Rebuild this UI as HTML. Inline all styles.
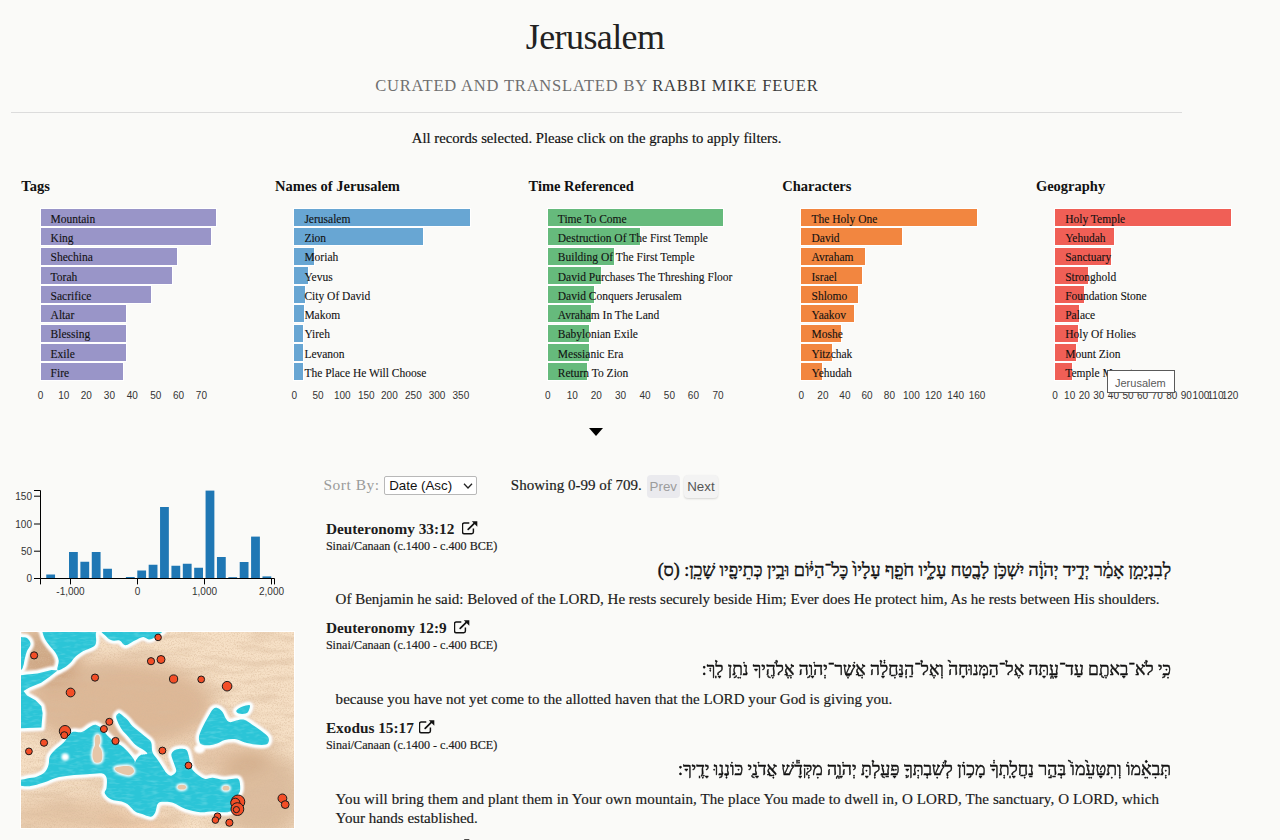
<!DOCTYPE html>
<html><head><meta charset="utf-8"><title>Jerusalem</title>
<style>
html,body{margin:0;padding:0;}
body{width:1280px;height:840px;overflow:hidden;position:relative;background:#fafaf8;font-family:'Liberation Serif', serif;}
.t{position:absolute;white-space:nowrap;-webkit-text-stroke:0.18px currentColor;}
.s1{-webkit-text-stroke:0.1px currentColor;}
.ns{-webkit-text-stroke:0 !important;}
.bar{position:absolute;height:17px;box-shadow:0 0 0 1px #fff;}
.tk{position:absolute;width:60px;text-align:center;font-family:'Liberation Sans', sans-serif;font-size:10px;line-height:12px;color:#333;}
</style></head><body>
<div class="t ns" style="left:95.10px;width:1000px;text-align:center;top:16.25px;font-size:36px;line-height:43.2px;font-family:'Liberation Serif', serif;color:#222;font-weight:normal;letter-spacing:-0.6px;">Jerusalem</div>
<div class="t ns" style="left:375.20px;top:75.53px;font-size:16.5px;line-height:19.8px;font-family:'Liberation Serif', serif;color:#222;font-weight:normal;letter-spacing:0.82px;"><span style="color:#707070">CURATED AND TRANSLATED BY </span><span style="color:#3c3c3c">RABBI MIKE FEUER</span></div>
<div style="position:absolute;left:11px;top:112px;width:1171px;height:1px;background:#dcdcdc"></div>
<div class="t" style="left:411.80px;top:129.82px;font-size:14.7px;line-height:17.64px;font-family:'Liberation Serif', serif;color:#111;font-weight:normal;">All records selected. Please click on the graphs to apply filters.</div>
<div class="t ns" style="left:21.30px;top:178.31px;font-size:14.5px;line-height:17.4px;font-family:'Liberation Serif', serif;color:#111;font-weight:bold;">Tags</div>
<div class="bar" style="left:40.50px;top:208.90px;width:175.50px;background:#9995c8"></div>
<div class="t s1" style="left:50.60px;top:212.62px;font-size:11.5px;line-height:13.8px;font-family:'Liberation Serif', serif;color:#111;font-weight:normal;z-index:2;">Mountain</div>
<div class="bar" style="left:40.50px;top:228.21px;width:170.90px;background:#9995c8"></div>
<div class="t s1" style="left:50.60px;top:231.93px;font-size:11.5px;line-height:13.8px;font-family:'Liberation Serif', serif;color:#111;font-weight:normal;z-index:2;">King</div>
<div class="bar" style="left:40.50px;top:247.52px;width:136.10px;background:#9995c8"></div>
<div class="t s1" style="left:50.60px;top:251.24px;font-size:11.5px;line-height:13.8px;font-family:'Liberation Serif', serif;color:#111;font-weight:normal;z-index:2;">Shechina</div>
<div class="bar" style="left:40.50px;top:266.83px;width:131.50px;background:#9995c8"></div>
<div class="t s1" style="left:50.60px;top:270.55px;font-size:11.5px;line-height:13.8px;font-family:'Liberation Serif', serif;color:#111;font-weight:normal;z-index:2;">Torah</div>
<div class="bar" style="left:40.50px;top:286.14px;width:110.50px;background:#9995c8"></div>
<div class="t s1" style="left:50.60px;top:289.86px;font-size:11.5px;line-height:13.8px;font-family:'Liberation Serif', serif;color:#111;font-weight:normal;z-index:2;">Sacrifice</div>
<div class="bar" style="left:40.50px;top:305.45px;width:85.20px;background:#9995c8"></div>
<div class="t s1" style="left:50.60px;top:309.17px;font-size:11.5px;line-height:13.8px;font-family:'Liberation Serif', serif;color:#111;font-weight:normal;z-index:2;">Altar</div>
<div class="bar" style="left:40.50px;top:324.76px;width:85.20px;background:#9995c8"></div>
<div class="t s1" style="left:50.60px;top:328.48px;font-size:11.5px;line-height:13.8px;font-family:'Liberation Serif', serif;color:#111;font-weight:normal;z-index:2;">Blessing</div>
<div class="bar" style="left:40.50px;top:344.07px;width:85.20px;background:#9995c8"></div>
<div class="t s1" style="left:50.60px;top:347.79px;font-size:11.5px;line-height:13.8px;font-family:'Liberation Serif', serif;color:#111;font-weight:normal;z-index:2;">Exile</div>
<div class="bar" style="left:40.50px;top:363.38px;width:82.90px;background:#9995c8"></div>
<div class="t s1" style="left:50.60px;top:367.10px;font-size:11.5px;line-height:13.8px;font-family:'Liberation Serif', serif;color:#111;font-weight:normal;z-index:2;">Fire</div>
<div class="tk" style="left:10.60px;top:389.60px">0</div>
<div class="tk" style="left:33.70px;top:389.60px">10</div>
<div class="tk" style="left:56.30px;top:389.60px">20</div>
<div class="tk" style="left:79.40px;top:389.60px">30</div>
<div class="tk" style="left:102.30px;top:389.60px">40</div>
<div class="tk" style="left:125.70px;top:389.60px">50</div>
<div class="tk" style="left:148.60px;top:389.60px">60</div>
<div class="tk" style="left:171.40px;top:389.60px">70</div>
<div class="t ns" style="left:275.10px;top:178.31px;font-size:14.5px;line-height:17.4px;font-family:'Liberation Serif', serif;color:#111;font-weight:bold;">Names of Jerusalem</div>
<div class="bar" style="left:294.30px;top:208.90px;width:175.70px;background:#68a6d3"></div>
<div class="t s1" style="left:304.40px;top:212.62px;font-size:11.5px;line-height:13.8px;font-family:'Liberation Serif', serif;color:#111;font-weight:normal;z-index:2;">Jerusalem</div>
<div class="bar" style="left:294.30px;top:228.21px;width:129.10px;background:#68a6d3"></div>
<div class="t s1" style="left:304.40px;top:231.93px;font-size:11.5px;line-height:13.8px;font-family:'Liberation Serif', serif;color:#111;font-weight:normal;z-index:2;">Zion</div>
<div class="bar" style="left:294.30px;top:247.52px;width:19.70px;background:#68a6d3"></div>
<div class="t s1" style="left:304.40px;top:251.24px;font-size:11.5px;line-height:13.8px;font-family:'Liberation Serif', serif;color:#111;font-weight:normal;z-index:2;">Moriah</div>
<div class="bar" style="left:294.30px;top:266.83px;width:14.00px;background:#68a6d3"></div>
<div class="t s1" style="left:304.40px;top:270.55px;font-size:11.5px;line-height:13.8px;font-family:'Liberation Serif', serif;color:#111;font-weight:normal;z-index:2;">Yevus</div>
<div class="bar" style="left:294.30px;top:286.14px;width:10.60px;background:#68a6d3"></div>
<div class="t s1" style="left:304.40px;top:289.86px;font-size:11.5px;line-height:13.8px;font-family:'Liberation Serif', serif;color:#111;font-weight:normal;z-index:2;">City Of David</div>
<div class="bar" style="left:294.30px;top:305.45px;width:10.00px;background:#68a6d3"></div>
<div class="t s1" style="left:304.40px;top:309.17px;font-size:11.5px;line-height:13.8px;font-family:'Liberation Serif', serif;color:#111;font-weight:normal;z-index:2;">Makom</div>
<div class="bar" style="left:294.30px;top:324.76px;width:9.10px;background:#68a6d3"></div>
<div class="t s1" style="left:304.40px;top:328.48px;font-size:11.5px;line-height:13.8px;font-family:'Liberation Serif', serif;color:#111;font-weight:normal;z-index:2;">Yireh</div>
<div class="bar" style="left:294.30px;top:344.07px;width:9.10px;background:#68a6d3"></div>
<div class="t s1" style="left:304.40px;top:347.79px;font-size:11.5px;line-height:13.8px;font-family:'Liberation Serif', serif;color:#111;font-weight:normal;z-index:2;">Levanon</div>
<div class="bar" style="left:294.30px;top:363.38px;width:8.30px;background:#68a6d3"></div>
<div class="t s1" style="left:304.40px;top:367.10px;font-size:11.5px;line-height:13.8px;font-family:'Liberation Serif', serif;color:#111;font-weight:normal;z-index:2;">The Place He Will Choose</div>
<div class="tk" style="left:264.30px;top:389.60px">0</div>
<div class="tk" style="left:288.00px;top:389.60px">50</div>
<div class="tk" style="left:312.30px;top:389.60px">100</div>
<div class="tk" style="left:336.30px;top:389.60px">150</div>
<div class="tk" style="left:359.40px;top:389.60px">200</div>
<div class="tk" style="left:383.40px;top:389.60px">250</div>
<div class="tk" style="left:407.10px;top:389.60px">300</div>
<div class="tk" style="left:430.90px;top:389.60px">350</div>
<div class="t ns" style="left:528.50px;top:178.31px;font-size:14.5px;line-height:17.4px;font-family:'Liberation Serif', serif;color:#111;font-weight:bold;">Time Referenced</div>
<div class="bar" style="left:547.70px;top:208.90px;width:175.30px;background:#66ba7c"></div>
<div class="t s1" style="left:557.80px;top:212.62px;font-size:11.5px;line-height:13.8px;font-family:'Liberation Serif', serif;color:#111;font-weight:normal;z-index:2;">Time To Come</div>
<div class="bar" style="left:547.70px;top:228.21px;width:92.60px;background:#66ba7c"></div>
<div class="t s1" style="left:557.80px;top:231.93px;font-size:11.5px;line-height:13.8px;font-family:'Liberation Serif', serif;color:#111;font-weight:normal;z-index:2;">Destruction Of The First Temple</div>
<div class="bar" style="left:547.70px;top:247.52px;width:66.00px;background:#66ba7c"></div>
<div class="t s1" style="left:557.80px;top:251.24px;font-size:11.5px;line-height:13.8px;font-family:'Liberation Serif', serif;color:#111;font-weight:normal;z-index:2;">Building Of The First Temple</div>
<div class="bar" style="left:547.70px;top:266.83px;width:53.30px;background:#66ba7c"></div>
<div class="t s1" style="left:557.80px;top:270.55px;font-size:11.5px;line-height:13.8px;font-family:'Liberation Serif', serif;color:#111;font-weight:normal;z-index:2;">David Purchases The Threshing Floor</div>
<div class="bar" style="left:547.70px;top:286.14px;width:46.30px;background:#66ba7c"></div>
<div class="t s1" style="left:557.80px;top:289.86px;font-size:11.5px;line-height:13.8px;font-family:'Liberation Serif', serif;color:#111;font-weight:normal;z-index:2;">David Conquers Jerusalem</div>
<div class="bar" style="left:547.70px;top:305.45px;width:43.70px;background:#66ba7c"></div>
<div class="t s1" style="left:557.80px;top:309.17px;font-size:11.5px;line-height:13.8px;font-family:'Liberation Serif', serif;color:#111;font-weight:normal;z-index:2;">Avraham In The Land</div>
<div class="bar" style="left:547.70px;top:324.76px;width:41.20px;background:#66ba7c"></div>
<div class="t s1" style="left:557.80px;top:328.48px;font-size:11.5px;line-height:13.8px;font-family:'Liberation Serif', serif;color:#111;font-weight:normal;z-index:2;">Babylonian Exile</div>
<div class="bar" style="left:547.70px;top:344.07px;width:41.20px;background:#66ba7c"></div>
<div class="t s1" style="left:557.80px;top:347.79px;font-size:11.5px;line-height:13.8px;font-family:'Liberation Serif', serif;color:#111;font-weight:normal;z-index:2;">Messianic Era</div>
<div class="bar" style="left:547.70px;top:363.38px;width:38.90px;background:#66ba7c"></div>
<div class="t s1" style="left:557.80px;top:367.10px;font-size:11.5px;line-height:13.8px;font-family:'Liberation Serif', serif;color:#111;font-weight:normal;z-index:2;">Return To Zion</div>
<div class="tk" style="left:517.70px;top:389.60px">0</div>
<div class="tk" style="left:542.30px;top:389.60px">10</div>
<div class="tk" style="left:566.30px;top:389.60px">20</div>
<div class="tk" style="left:590.60px;top:389.60px">30</div>
<div class="tk" style="left:615.00px;top:389.60px">40</div>
<div class="tk" style="left:639.40px;top:389.60px">50</div>
<div class="tk" style="left:663.40px;top:389.60px">60</div>
<div class="tk" style="left:688.00px;top:389.60px">70</div>
<div class="t ns" style="left:782.20px;top:178.31px;font-size:14.5px;line-height:17.4px;font-family:'Liberation Serif', serif;color:#111;font-weight:bold;">Characters</div>
<div class="bar" style="left:801.40px;top:208.90px;width:175.60px;background:#f28640"></div>
<div class="t s1" style="left:811.50px;top:212.62px;font-size:11.5px;line-height:13.8px;font-family:'Liberation Serif', serif;color:#111;font-weight:normal;z-index:2;">The Holy One</div>
<div class="bar" style="left:801.40px;top:228.21px;width:100.90px;background:#f28640"></div>
<div class="t s1" style="left:811.50px;top:231.93px;font-size:11.5px;line-height:13.8px;font-family:'Liberation Serif', serif;color:#111;font-weight:normal;z-index:2;">David</div>
<div class="bar" style="left:801.40px;top:247.52px;width:63.50px;background:#f28640"></div>
<div class="t s1" style="left:811.50px;top:251.24px;font-size:11.5px;line-height:13.8px;font-family:'Liberation Serif', serif;color:#111;font-weight:normal;z-index:2;">Avraham</div>
<div class="bar" style="left:801.40px;top:266.83px;width:60.30px;background:#f28640"></div>
<div class="t s1" style="left:811.50px;top:270.55px;font-size:11.5px;line-height:13.8px;font-family:'Liberation Serif', serif;color:#111;font-weight:normal;z-index:2;">Israel</div>
<div class="bar" style="left:801.40px;top:286.14px;width:56.90px;background:#f28640"></div>
<div class="t s1" style="left:811.50px;top:289.86px;font-size:11.5px;line-height:13.8px;font-family:'Liberation Serif', serif;color:#111;font-weight:normal;z-index:2;">Shlomo</div>
<div class="bar" style="left:801.40px;top:305.45px;width:52.60px;background:#f28640"></div>
<div class="t s1" style="left:811.50px;top:309.17px;font-size:11.5px;line-height:13.8px;font-family:'Liberation Serif', serif;color:#111;font-weight:normal;z-index:2;">Yaakov</div>
<div class="bar" style="left:801.40px;top:324.76px;width:39.50px;background:#f28640"></div>
<div class="t s1" style="left:811.50px;top:328.48px;font-size:11.5px;line-height:13.8px;font-family:'Liberation Serif', serif;color:#111;font-weight:normal;z-index:2;">Moshe</div>
<div class="bar" style="left:801.40px;top:344.07px;width:30.60px;background:#f28640"></div>
<div class="t s1" style="left:811.50px;top:347.79px;font-size:11.5px;line-height:13.8px;font-family:'Liberation Serif', serif;color:#111;font-weight:normal;z-index:2;">Yitzchak</div>
<div class="bar" style="left:801.40px;top:363.38px;width:20.90px;background:#f28640"></div>
<div class="t s1" style="left:811.50px;top:367.10px;font-size:11.5px;line-height:13.8px;font-family:'Liberation Serif', serif;color:#111;font-weight:normal;z-index:2;">Yehudah</div>
<div class="tk" style="left:771.40px;top:389.60px">0</div>
<div class="tk" style="left:792.90px;top:389.60px">20</div>
<div class="tk" style="left:814.90px;top:389.60px">40</div>
<div class="tk" style="left:837.10px;top:389.60px">60</div>
<div class="tk" style="left:859.40px;top:389.60px">80</div>
<div class="tk" style="left:881.40px;top:389.60px">100</div>
<div class="tk" style="left:903.40px;top:389.60px">120</div>
<div class="tk" style="left:925.70px;top:389.60px">140</div>
<div class="tk" style="left:947.10px;top:389.60px">160</div>
<div class="t ns" style="left:1035.90px;top:178.31px;font-size:14.5px;line-height:17.4px;font-family:'Liberation Serif', serif;color:#111;font-weight:bold;">Geography</div>
<div class="bar" style="left:1055.10px;top:208.90px;width:175.50px;background:#f05f56"></div>
<div class="t s1" style="left:1065.20px;top:212.62px;font-size:11.5px;line-height:13.8px;font-family:'Liberation Serif', serif;color:#111;font-weight:normal;z-index:2;">Holy Temple</div>
<div class="bar" style="left:1055.10px;top:228.21px;width:58.90px;background:#f05f56"></div>
<div class="t s1" style="left:1065.20px;top:231.93px;font-size:11.5px;line-height:13.8px;font-family:'Liberation Serif', serif;color:#111;font-weight:normal;z-index:2;">Yehudah</div>
<div class="bar" style="left:1055.10px;top:247.52px;width:56.00px;background:#f05f56"></div>
<div class="t s1" style="left:1065.20px;top:251.24px;font-size:11.5px;line-height:13.8px;font-family:'Liberation Serif', serif;color:#111;font-weight:normal;z-index:2;">Sanctuary</div>
<div class="bar" style="left:1055.10px;top:266.83px;width:32.90px;background:#f05f56"></div>
<div class="t s1" style="left:1065.20px;top:270.55px;font-size:11.5px;line-height:13.8px;font-family:'Liberation Serif', serif;color:#111;font-weight:normal;z-index:2;">Stronghold</div>
<div class="bar" style="left:1055.10px;top:286.14px;width:28.60px;background:#f05f56"></div>
<div class="t s1" style="left:1065.20px;top:289.86px;font-size:11.5px;line-height:13.8px;font-family:'Liberation Serif', serif;color:#111;font-weight:normal;z-index:2;">Foundation Stone</div>
<div class="bar" style="left:1055.10px;top:305.45px;width:24.00px;background:#f05f56"></div>
<div class="t s1" style="left:1065.20px;top:309.17px;font-size:11.5px;line-height:13.8px;font-family:'Liberation Serif', serif;color:#111;font-weight:normal;z-index:2;">Palace</div>
<div class="bar" style="left:1055.10px;top:324.76px;width:22.90px;background:#f05f56"></div>
<div class="t s1" style="left:1065.20px;top:328.48px;font-size:11.5px;line-height:13.8px;font-family:'Liberation Serif', serif;color:#111;font-weight:normal;z-index:2;">Holy Of Holies</div>
<div class="bar" style="left:1055.10px;top:344.07px;width:21.20px;background:#f05f56"></div>
<div class="t s1" style="left:1065.20px;top:347.79px;font-size:11.5px;line-height:13.8px;font-family:'Liberation Serif', serif;color:#111;font-weight:normal;z-index:2;">Mount Zion</div>
<div class="bar" style="left:1055.10px;top:363.38px;width:17.20px;background:#f05f56"></div>
<div class="t s1" style="left:1065.20px;top:367.10px;font-size:11.5px;line-height:13.8px;font-family:'Liberation Serif', serif;color:#111;font-weight:normal;z-index:2;">Temple Mount</div>
<div class="tk" style="left:1025.10px;top:389.60px">0</div>
<div class="tk" style="left:1039.68px;top:389.60px">10</div>
<div class="tk" style="left:1054.27px;top:389.60px">20</div>
<div class="tk" style="left:1068.85px;top:389.60px">30</div>
<div class="tk" style="left:1083.43px;top:389.60px">40</div>
<div class="tk" style="left:1098.02px;top:389.60px">50</div>
<div class="tk" style="left:1112.60px;top:389.60px">60</div>
<div class="tk" style="left:1127.18px;top:389.60px">70</div>
<div class="tk" style="left:1141.77px;top:389.60px">80</div>
<div class="tk" style="left:1156.35px;top:389.60px">90</div>
<div class="tk" style="left:1170.93px;top:389.60px">100</div>
<div class="tk" style="left:1185.52px;top:389.60px">110</div>
<div class="tk" style="left:1200.10px;top:389.60px">120</div>
<div style="position:absolute;left:1107.2px;top:370.2px;width:65.6px;height:20.6px;border:1px solid #5a5a5a;background:#fff;z-index:5"></div>
<div class="t ns" style="left:1115.00px;top:376.89px;font-size:11px;line-height:13.2px;font-family:'Liberation Sans', sans-serif;color:#5a5a5a;font-weight:normal;z-index:6;">Jerusalem</div>
<div style="position:absolute;left:588.9px;top:428.2px;width:0;height:0;border-left:7.85px solid transparent;border-right:7.85px solid transparent;border-top:8.2px solid #000"></div>
<svg style="position:absolute;left:0;top:480px" width="300" height="125" viewBox="0 480 300 125">
<rect x="46.25" y="574.50" width="8.8" height="3.90" fill="#1f77b4"/>
<rect x="69.01" y="552.00" width="8.8" height="26.40" fill="#1f77b4"/>
<rect x="80.39" y="561.75" width="8.8" height="16.65" fill="#1f77b4"/>
<rect x="91.77" y="552.00" width="8.8" height="26.40" fill="#1f77b4"/>
<rect x="103.15" y="568.75" width="8.8" height="9.65" fill="#1f77b4"/>
<rect x="125.91" y="577.00" width="8.8" height="1.40" fill="#1f77b4"/>
<rect x="137.29" y="570.50" width="8.8" height="7.90" fill="#1f77b4"/>
<rect x="148.67" y="564.75" width="8.8" height="13.65" fill="#1f77b4"/>
<rect x="160.05" y="507.00" width="8.8" height="71.40" fill="#1f77b4"/>
<rect x="171.43" y="565.75" width="8.8" height="12.65" fill="#1f77b4"/>
<rect x="182.81" y="563.75" width="8.8" height="14.65" fill="#1f77b4"/>
<rect x="194.19" y="567.75" width="8.8" height="10.65" fill="#1f77b4"/>
<rect x="205.57" y="490.60" width="8.8" height="87.80" fill="#1f77b4"/>
<rect x="216.95" y="557.00" width="8.8" height="21.40" fill="#1f77b4"/>
<rect x="228.33" y="577.20" width="8.8" height="1.20" fill="#1f77b4"/>
<rect x="239.71" y="562.00" width="8.8" height="16.40" fill="#1f77b4"/>
<rect x="251.09" y="536.60" width="8.8" height="41.80" fill="#1f77b4"/>
<rect x="262.47" y="576.40" width="8.8" height="2.00" fill="#1f77b4"/>
<path d="M34,490.5 H40.5 V578.5 H274.5 V584.4" fill="none" stroke="#000" stroke-width="1"/>
<path d="M40.5,578.5 V584.4" stroke="#000"/>
<path d="M34,496.2 H40.5" stroke="#000"/>
<text x="32" y="499.7" text-anchor="end" font-family='Liberation Sans, sans-serif' font-size="10" fill="#333">150</text>
<path d="M34,524 H40.5" stroke="#000"/>
<text x="32" y="527.5" text-anchor="end" font-family='Liberation Sans, sans-serif' font-size="10" fill="#333">100</text>
<path d="M34,551.2 H40.5" stroke="#000"/>
<text x="32" y="554.7" text-anchor="end" font-family='Liberation Sans, sans-serif' font-size="10" fill="#333">50</text>
<path d="M34,578.5 H40.5" stroke="#000"/>
<text x="32" y="582.0" text-anchor="end" font-family='Liberation Sans, sans-serif' font-size="10" fill="#333">0</text>
<path d="M70.5,578.5 V584.4" stroke="#000"/>
<text x="70.5" y="594.5" text-anchor="middle" font-family='Liberation Sans, sans-serif' font-size="10" fill="#333">-1,000</text>
<path d="M137.5,578.5 V584.4" stroke="#000"/>
<text x="137.5" y="594.5" text-anchor="middle" font-family='Liberation Sans, sans-serif' font-size="10" fill="#333">0</text>
<path d="M204.5,578.5 V584.4" stroke="#000"/>
<text x="204.5" y="594.5" text-anchor="middle" font-family='Liberation Sans, sans-serif' font-size="10" fill="#333">1,000</text>
<path d="M271.5,578.5 V584.4" stroke="#000"/>
<text x="271.5" y="594.5" text-anchor="middle" font-family='Liberation Sans, sans-serif' font-size="10" fill="#333">2,000</text>
</svg>
<div style="position:absolute;left:20px;top:631px;width:275px;height:198px;background:#fff"></div>
<svg style="position:absolute;left:21px;top:632px" width="273" height="196" viewBox="21 632 273 196">
<defs>
<filter id="tex" filterUnits="userSpaceOnUse" x="21" y="632" width="273" height="196"><feTurbulence type="fractalNoise" baseFrequency="0.7" numOctaves="3" seed="7"/><feColorMatrix type="matrix" values="0 0 0 0 0.68  0 0 0 0 0.48  0 0 0 0 0.32  2.8 0 0 0 -1.25"/></filter>
<filter id="streak" filterUnits="userSpaceOnUse" x="21" y="632" width="273" height="196"><feTurbulence type="fractalNoise" baseFrequency="0.025 0.12" numOctaves="3" seed="4"/><feColorMatrix type="matrix" values="0 0 0 0 0.70  0 0 0 0 0.50  0 0 0 0 0.34  3.2 0 0 0 -1.45"/></filter>
<filter id="tex2" filterUnits="userSpaceOnUse" x="21" y="632" width="273" height="196"><feTurbulence type="fractalNoise" baseFrequency="0.12 0.35" numOctaves="2" seed="11"/><feColorMatrix type="matrix" values="0 0 0 0 0.50  0 0 0 0 0.88  0 0 0 0 0.92  2.4 0 0 0 -1.1"/></filter>
<filter id="soft" filterUnits="userSpaceOnUse" x="0" y="600" width="320" height="260"><feGaussianBlur stdDeviation="0.9"/></filter>
<filter id="big" filterUnits="userSpaceOnUse" x="0" y="600" width="320" height="260"><feGaussianBlur stdDeviation="9"/></filter>
<clipPath id="mc"><rect x="21" y="632" width="273" height="196"/></clipPath>
<mask id="seamask"><rect x="21" y="632" width="273" height="196" fill="#000"/><path d="M12.0,634.0 C13.5,628.2 18.5,636.3 21.0,637.0 C23.5,637.7 25.4,636.8 27.0,638.0 C28.6,639.2 30.5,641.8 30.5,644.0 C30.5,646.2 28.0,648.5 27.0,651.0 C26.0,653.5 25.3,656.7 24.7,659.0 C24.1,661.3 24.1,663.2 23.5,665.0 C22.9,666.8 22.9,668.8 21.0,670.0 C19.1,671.2 13.5,678.0 12.0,672.0 C10.5,666.0 10.5,639.8 12.0,634.0 Z" fill="#fff"/><path d="M41.5,626.0 C46.1,625.0 61.0,626.0 70.0,626.0 C79.0,626.0 91.2,624.7 95.5,626.0 C99.8,627.3 95.9,630.8 95.8,634.0 C95.7,637.2 97.1,642.4 95.0,645.2 C92.9,648.1 86.6,649.1 83.3,651.1 C80.0,653.1 77.2,655.0 75.1,657.0 C72.9,659.0 72.2,661.0 70.4,662.8 C68.6,664.5 66.7,666.3 64.5,667.5 C62.4,668.7 58.5,671.1 57.5,669.9 C56.5,668.7 59.1,663.4 58.7,660.5 C58.3,657.6 56.8,654.8 55.2,652.3 C53.6,649.8 51.1,647.6 49.3,645.2 C47.5,642.9 45.7,640.4 44.6,638.2 C43.5,636.0 43.0,634.0 42.5,632.0 C42.0,630.0 36.9,627.0 41.5,626.0 Z" fill="#fff"/><path d="M15.0,676.0 L27.0,674.5 L37.6,673.4 L51.7,669.9 L57.5,670.5 L49.3,676.9 L41.1,682.8 L29.4,687.4 L23.5,691.0 L27.0,695.6 L35.5,700.2 L41.4,706.2 L42.6,713.3 L41.4,727.6 L15.0,728.5 Z" fill="#fff"/><path d="M104.4,628.0 C113.4,626.5 152.6,626.5 161.0,628.0 C169.4,629.5 156.8,635.1 154.8,637.0 C152.8,638.9 150.9,639.4 149.0,639.4 C147.1,639.4 145.4,636.8 143.1,637.0 C140.8,637.2 137.8,639.1 134.9,640.5 C132.0,641.9 128.1,645.2 125.5,645.2 C123.0,645.2 121.8,641.3 119.6,640.5 C117.4,639.7 114.7,641.1 112.6,640.5 C110.5,639.9 108.2,639.1 106.8,637.0 C105.4,634.9 95.4,629.5 104.4,628.0 Z" fill="#fff"/><path d="M16.0,781.4 C17.9,780.4 23.7,779.3 27.1,778.5 C30.6,777.7 33.7,777.8 36.7,776.7 C39.7,775.6 43.0,773.9 45.0,771.9 C47.0,769.9 47.8,767.4 48.6,764.8 C49.4,762.2 48.6,759.0 49.8,756.4 C51.0,753.8 53.5,751.5 55.7,749.3 C57.9,747.1 60.9,745.3 62.9,743.3 C64.9,741.3 66.0,739.3 67.6,737.4 C69.2,735.5 70.0,732.9 72.4,732.0 C74.8,731.1 78.9,732.9 81.9,732.0 C84.9,731.1 87.8,727.9 90.2,726.7 C92.6,725.5 94.1,724.4 96.2,724.9 C98.3,725.4 101.2,727.8 103.0,729.5 C104.8,731.2 105.2,733.2 107.1,735.2 C109.0,737.2 111.8,739.8 114.5,741.8 C117.2,743.8 120.5,744.9 123.3,747.2 C126.0,749.5 129.1,753.1 131.0,755.5 C132.9,757.9 134.4,759.7 134.8,761.5 C135.2,763.3 133.2,766.8 133.5,766.5 C133.8,766.2 135.3,761.4 136.5,759.5 C137.7,757.6 138.7,756.2 140.5,755.2 C142.3,754.2 146.8,754.7 147.3,753.8 C147.8,752.9 145.2,751.3 143.3,749.8 C141.4,748.3 138.2,747.2 135.7,745.0 C133.2,742.8 130.5,739.1 128.1,736.4 C125.7,733.7 123.4,732.0 121.4,728.8 C119.4,725.6 116.7,719.9 116.2,717.4 C115.7,714.9 117.8,714.1 118.5,713.5 C119.2,712.9 118.7,712.8 120.2,713.8 C121.7,714.8 125.4,717.8 127.4,719.8 C129.4,721.8 130.1,723.7 132.1,725.7 C134.1,727.7 136.9,729.7 139.3,731.7 C141.7,733.7 144.4,735.8 146.4,737.6 C148.4,739.4 150.2,740.0 151.2,742.4 C152.2,744.8 151.4,749.1 152.4,751.9 C153.4,754.7 155.5,756.6 157.1,759.0 C158.7,761.4 160.3,763.8 161.9,766.2 C163.5,768.6 165.1,771.7 166.7,773.3 C168.3,774.9 169.8,776.1 171.4,775.7 C173.0,775.3 175.8,773.3 176.2,771.0 C176.5,768.7 174.3,764.8 173.5,762.0 C172.7,759.2 171.0,756.4 171.4,754.3 C171.8,752.2 173.8,750.3 176.2,749.5 C178.6,748.7 183.6,748.5 185.7,749.5 C187.8,750.5 187.8,752.9 188.7,755.7 C189.5,758.5 189.8,763.4 190.8,766.2 C191.9,769.0 192.7,770.4 195.0,772.5 C197.3,774.6 201.5,777.8 204.5,778.7 C207.5,779.6 209.7,777.5 212.8,777.7 C215.9,777.9 219.8,779.6 223.3,779.8 C226.8,780.0 231.2,778.7 233.8,778.7 C236.4,778.7 237.9,777.9 239.0,779.8 C240.1,781.7 240.4,787.5 240.1,790.3 C239.8,793.1 238.1,793.9 236.9,796.5 C235.7,799.1 234.1,803.5 233.0,806.0 C231.9,808.5 232.2,810.2 230.6,811.2 C229.0,812.2 226.3,812.3 223.3,812.3 C220.3,812.3 216.6,811.2 212.8,811.2 C209.0,811.2 204.8,812.6 200.3,812.3 C195.8,811.9 190.2,810.7 185.6,809.1 C181.0,807.5 176.7,804.0 173.0,802.8 C169.3,801.6 166.1,801.6 163.6,801.8 C161.1,801.9 159.2,801.9 157.8,803.7 C156.4,805.5 156.3,810.2 155.2,812.4 C154.0,814.6 153.1,816.4 150.9,816.7 C148.7,817.0 144.8,815.0 142.2,814.1 C139.6,813.2 137.4,813.0 135.2,811.5 C133.0,810.0 131.1,807.0 129.1,805.4 C127.1,803.8 126.0,803.0 123.0,802.0 C120.0,801.0 113.9,800.8 110.9,799.3 C107.9,797.8 105.5,795.2 104.8,793.3 C104.1,791.4 106.2,790.6 106.5,788.0 C106.8,785.4 107.4,780.1 106.5,777.6 C105.6,775.1 104.6,773.8 101.3,773.3 C98.0,772.8 91.9,773.9 86.7,774.3 C81.5,774.7 75.2,774.9 70.0,775.5 C64.8,776.1 60.1,776.7 55.7,777.9 C51.3,779.1 48.2,781.2 43.8,782.6 C39.4,784.0 34.1,785.9 29.5,786.2 C24.9,786.5 18.2,785.3 16.0,784.5 C13.8,783.7 14.2,782.4 16.0,781.4 Z" fill="#fff"/><path d="M199.3,735.2 C200.0,732.8 201.8,729.0 203.2,726.0 C204.6,723.0 206.1,720.2 207.8,717.4 C209.5,714.5 211.5,710.4 213.2,708.9 C214.9,707.4 216.3,707.7 217.9,708.2 C219.5,708.7 221.2,710.3 222.5,712.0 C223.8,713.7 224.4,716.5 225.6,718.2 C226.8,719.9 227.7,721.7 229.5,722.1 C231.3,722.5 234.0,720.9 236.4,720.5 C238.8,720.1 241.6,719.1 244.2,719.8 C246.8,720.4 249.3,722.7 251.9,724.4 C254.5,726.1 257.1,727.9 259.7,729.8 C262.3,731.7 265.9,734.2 267.4,736.0 C268.9,737.8 269.1,739.3 268.9,740.7 C268.6,742.1 268.1,743.9 265.9,744.5 C263.7,745.1 259.4,744.9 255.8,744.5 C252.2,744.1 247.7,743.1 244.2,742.2 C240.7,741.3 238.1,739.5 234.9,739.1 C231.7,738.7 227.9,739.1 224.8,739.9 C221.7,740.7 218.9,742.9 216.3,743.8 C213.7,744.7 211.8,745.2 209.3,745.3 C206.9,745.4 203.3,745.3 201.6,744.5 C199.9,743.7 199.7,742.2 199.3,740.7 C198.9,739.2 198.7,737.7 199.3,735.2 Z" fill="#fff"/><path d="M236.4,710.5 C237.0,709.3 240.4,707.5 242.6,706.6 C244.8,705.7 248.6,704.5 249.6,705.1 C250.6,705.8 249.5,709.1 248.8,710.5 C248.2,711.9 247.4,713.1 245.7,713.6 C244.0,714.1 240.4,714.1 238.8,713.6 C237.2,713.1 235.8,711.7 236.4,710.5 Z" fill="#fff"/></mask>
</defs>
<g clip-path="url(#mc)">
<rect x="21" y="632" width="273" height="196" fill="#f6e0c6"/>
<g filter="url(#big)">
<ellipse cx="45" cy="655" rx="35" ry="28" fill="#a87048" opacity="0.5"/>
<ellipse cx="120" cy="705" rx="95" ry="45" fill="#b98158" opacity="0.42"/>
<ellipse cx="260" cy="795" rx="45" ry="45" fill="#b98a64" opacity="0.4"/>
<ellipse cx="225" cy="758" rx="45" ry="16" fill="#bb8058" opacity="0.3"/>
<ellipse cx="70" cy="815" rx="60" ry="18" fill="#c08a60" opacity="0.3"/>
<ellipse cx="140" cy="826" rx="40" ry="10" fill="#d08a5c" opacity="0.3"/>
</g>
<rect x="21" y="632" width="273" height="196" filter="url(#streak)" opacity="0.4"/>
<rect x="21" y="632" width="273" height="196" filter="url(#tex)" opacity="0.5"/>
<path d="M12.0,634.0 C13.5,628.2 18.5,636.3 21.0,637.0 C23.5,637.7 25.4,636.8 27.0,638.0 C28.6,639.2 30.5,641.8 30.5,644.0 C30.5,646.2 28.0,648.5 27.0,651.0 C26.0,653.5 25.3,656.7 24.7,659.0 C24.1,661.3 24.1,663.2 23.5,665.0 C22.9,666.8 22.9,668.8 21.0,670.0 C19.1,671.2 13.5,678.0 12.0,672.0 C10.5,666.0 10.5,639.8 12.0,634.0 Z" fill="none" stroke="#c79877" stroke-width="9" opacity="0.35" filter="url(#soft)"/>
<path d="M41.5,626.0 C46.1,625.0 61.0,626.0 70.0,626.0 C79.0,626.0 91.2,624.7 95.5,626.0 C99.8,627.3 95.9,630.8 95.8,634.0 C95.7,637.2 97.1,642.4 95.0,645.2 C92.9,648.1 86.6,649.1 83.3,651.1 C80.0,653.1 77.2,655.0 75.1,657.0 C72.9,659.0 72.2,661.0 70.4,662.8 C68.6,664.5 66.7,666.3 64.5,667.5 C62.4,668.7 58.5,671.1 57.5,669.9 C56.5,668.7 59.1,663.4 58.7,660.5 C58.3,657.6 56.8,654.8 55.2,652.3 C53.6,649.8 51.1,647.6 49.3,645.2 C47.5,642.9 45.7,640.4 44.6,638.2 C43.5,636.0 43.0,634.0 42.5,632.0 C42.0,630.0 36.9,627.0 41.5,626.0 Z" fill="none" stroke="#c79877" stroke-width="9" opacity="0.35" filter="url(#soft)"/>
<path d="M15.0,676.0 L27.0,674.5 L37.6,673.4 L51.7,669.9 L57.5,670.5 L49.3,676.9 L41.1,682.8 L29.4,687.4 L23.5,691.0 L27.0,695.6 L35.5,700.2 L41.4,706.2 L42.6,713.3 L41.4,727.6 L15.0,728.5 Z" fill="none" stroke="#c79877" stroke-width="9" opacity="0.35" filter="url(#soft)"/>
<path d="M104.4,628.0 C113.4,626.5 152.6,626.5 161.0,628.0 C169.4,629.5 156.8,635.1 154.8,637.0 C152.8,638.9 150.9,639.4 149.0,639.4 C147.1,639.4 145.4,636.8 143.1,637.0 C140.8,637.2 137.8,639.1 134.9,640.5 C132.0,641.9 128.1,645.2 125.5,645.2 C123.0,645.2 121.8,641.3 119.6,640.5 C117.4,639.7 114.7,641.1 112.6,640.5 C110.5,639.9 108.2,639.1 106.8,637.0 C105.4,634.9 95.4,629.5 104.4,628.0 Z" fill="none" stroke="#c79877" stroke-width="9" opacity="0.35" filter="url(#soft)"/>
<path d="M16.0,781.4 C17.9,780.4 23.7,779.3 27.1,778.5 C30.6,777.7 33.7,777.8 36.7,776.7 C39.7,775.6 43.0,773.9 45.0,771.9 C47.0,769.9 47.8,767.4 48.6,764.8 C49.4,762.2 48.6,759.0 49.8,756.4 C51.0,753.8 53.5,751.5 55.7,749.3 C57.9,747.1 60.9,745.3 62.9,743.3 C64.9,741.3 66.0,739.3 67.6,737.4 C69.2,735.5 70.0,732.9 72.4,732.0 C74.8,731.1 78.9,732.9 81.9,732.0 C84.9,731.1 87.8,727.9 90.2,726.7 C92.6,725.5 94.1,724.4 96.2,724.9 C98.3,725.4 101.2,727.8 103.0,729.5 C104.8,731.2 105.2,733.2 107.1,735.2 C109.0,737.2 111.8,739.8 114.5,741.8 C117.2,743.8 120.5,744.9 123.3,747.2 C126.0,749.5 129.1,753.1 131.0,755.5 C132.9,757.9 134.4,759.7 134.8,761.5 C135.2,763.3 133.2,766.8 133.5,766.5 C133.8,766.2 135.3,761.4 136.5,759.5 C137.7,757.6 138.7,756.2 140.5,755.2 C142.3,754.2 146.8,754.7 147.3,753.8 C147.8,752.9 145.2,751.3 143.3,749.8 C141.4,748.3 138.2,747.2 135.7,745.0 C133.2,742.8 130.5,739.1 128.1,736.4 C125.7,733.7 123.4,732.0 121.4,728.8 C119.4,725.6 116.7,719.9 116.2,717.4 C115.7,714.9 117.8,714.1 118.5,713.5 C119.2,712.9 118.7,712.8 120.2,713.8 C121.7,714.8 125.4,717.8 127.4,719.8 C129.4,721.8 130.1,723.7 132.1,725.7 C134.1,727.7 136.9,729.7 139.3,731.7 C141.7,733.7 144.4,735.8 146.4,737.6 C148.4,739.4 150.2,740.0 151.2,742.4 C152.2,744.8 151.4,749.1 152.4,751.9 C153.4,754.7 155.5,756.6 157.1,759.0 C158.7,761.4 160.3,763.8 161.9,766.2 C163.5,768.6 165.1,771.7 166.7,773.3 C168.3,774.9 169.8,776.1 171.4,775.7 C173.0,775.3 175.8,773.3 176.2,771.0 C176.5,768.7 174.3,764.8 173.5,762.0 C172.7,759.2 171.0,756.4 171.4,754.3 C171.8,752.2 173.8,750.3 176.2,749.5 C178.6,748.7 183.6,748.5 185.7,749.5 C187.8,750.5 187.8,752.9 188.7,755.7 C189.5,758.5 189.8,763.4 190.8,766.2 C191.9,769.0 192.7,770.4 195.0,772.5 C197.3,774.6 201.5,777.8 204.5,778.7 C207.5,779.6 209.7,777.5 212.8,777.7 C215.9,777.9 219.8,779.6 223.3,779.8 C226.8,780.0 231.2,778.7 233.8,778.7 C236.4,778.7 237.9,777.9 239.0,779.8 C240.1,781.7 240.4,787.5 240.1,790.3 C239.8,793.1 238.1,793.9 236.9,796.5 C235.7,799.1 234.1,803.5 233.0,806.0 C231.9,808.5 232.2,810.2 230.6,811.2 C229.0,812.2 226.3,812.3 223.3,812.3 C220.3,812.3 216.6,811.2 212.8,811.2 C209.0,811.2 204.8,812.6 200.3,812.3 C195.8,811.9 190.2,810.7 185.6,809.1 C181.0,807.5 176.7,804.0 173.0,802.8 C169.3,801.6 166.1,801.6 163.6,801.8 C161.1,801.9 159.2,801.9 157.8,803.7 C156.4,805.5 156.3,810.2 155.2,812.4 C154.0,814.6 153.1,816.4 150.9,816.7 C148.7,817.0 144.8,815.0 142.2,814.1 C139.6,813.2 137.4,813.0 135.2,811.5 C133.0,810.0 131.1,807.0 129.1,805.4 C127.1,803.8 126.0,803.0 123.0,802.0 C120.0,801.0 113.9,800.8 110.9,799.3 C107.9,797.8 105.5,795.2 104.8,793.3 C104.1,791.4 106.2,790.6 106.5,788.0 C106.8,785.4 107.4,780.1 106.5,777.6 C105.6,775.1 104.6,773.8 101.3,773.3 C98.0,772.8 91.9,773.9 86.7,774.3 C81.5,774.7 75.2,774.9 70.0,775.5 C64.8,776.1 60.1,776.7 55.7,777.9 C51.3,779.1 48.2,781.2 43.8,782.6 C39.4,784.0 34.1,785.9 29.5,786.2 C24.9,786.5 18.2,785.3 16.0,784.5 C13.8,783.7 14.2,782.4 16.0,781.4 Z" fill="none" stroke="#c79877" stroke-width="9" opacity="0.35" filter="url(#soft)"/>
<path d="M199.3,735.2 C200.0,732.8 201.8,729.0 203.2,726.0 C204.6,723.0 206.1,720.2 207.8,717.4 C209.5,714.5 211.5,710.4 213.2,708.9 C214.9,707.4 216.3,707.7 217.9,708.2 C219.5,708.7 221.2,710.3 222.5,712.0 C223.8,713.7 224.4,716.5 225.6,718.2 C226.8,719.9 227.7,721.7 229.5,722.1 C231.3,722.5 234.0,720.9 236.4,720.5 C238.8,720.1 241.6,719.1 244.2,719.8 C246.8,720.4 249.3,722.7 251.9,724.4 C254.5,726.1 257.1,727.9 259.7,729.8 C262.3,731.7 265.9,734.2 267.4,736.0 C268.9,737.8 269.1,739.3 268.9,740.7 C268.6,742.1 268.1,743.9 265.9,744.5 C263.7,745.1 259.4,744.9 255.8,744.5 C252.2,744.1 247.7,743.1 244.2,742.2 C240.7,741.3 238.1,739.5 234.9,739.1 C231.7,738.7 227.9,739.1 224.8,739.9 C221.7,740.7 218.9,742.9 216.3,743.8 C213.7,744.7 211.8,745.2 209.3,745.3 C206.9,745.4 203.3,745.3 201.6,744.5 C199.9,743.7 199.7,742.2 199.3,740.7 C198.9,739.2 198.7,737.7 199.3,735.2 Z" fill="none" stroke="#c79877" stroke-width="9" opacity="0.35" filter="url(#soft)"/>
<path d="M236.4,710.5 C237.0,709.3 240.4,707.5 242.6,706.6 C244.8,705.7 248.6,704.5 249.6,705.1 C250.6,705.8 249.5,709.1 248.8,710.5 C248.2,711.9 247.4,713.1 245.7,713.6 C244.0,714.1 240.4,714.1 238.8,713.6 C237.2,713.1 235.8,711.7 236.4,710.5 Z" fill="none" stroke="#c79877" stroke-width="9" opacity="0.35" filter="url(#soft)"/>
<path d="M12.0,634.0 C13.5,628.2 18.5,636.3 21.0,637.0 C23.5,637.7 25.4,636.8 27.0,638.0 C28.6,639.2 30.5,641.8 30.5,644.0 C30.5,646.2 28.0,648.5 27.0,651.0 C26.0,653.5 25.3,656.7 24.7,659.0 C24.1,661.3 24.1,663.2 23.5,665.0 C22.9,666.8 22.9,668.8 21.0,670.0 C19.1,671.2 13.5,678.0 12.0,672.0 C10.5,666.0 10.5,639.8 12.0,634.0 Z" fill="#fff" stroke="#fff" stroke-width="7.5" stroke-linejoin="round" filter="url(#soft)"/>
<path d="M41.5,626.0 C46.1,625.0 61.0,626.0 70.0,626.0 C79.0,626.0 91.2,624.7 95.5,626.0 C99.8,627.3 95.9,630.8 95.8,634.0 C95.7,637.2 97.1,642.4 95.0,645.2 C92.9,648.1 86.6,649.1 83.3,651.1 C80.0,653.1 77.2,655.0 75.1,657.0 C72.9,659.0 72.2,661.0 70.4,662.8 C68.6,664.5 66.7,666.3 64.5,667.5 C62.4,668.7 58.5,671.1 57.5,669.9 C56.5,668.7 59.1,663.4 58.7,660.5 C58.3,657.6 56.8,654.8 55.2,652.3 C53.6,649.8 51.1,647.6 49.3,645.2 C47.5,642.9 45.7,640.4 44.6,638.2 C43.5,636.0 43.0,634.0 42.5,632.0 C42.0,630.0 36.9,627.0 41.5,626.0 Z" fill="#fff" stroke="#fff" stroke-width="7.5" stroke-linejoin="round" filter="url(#soft)"/>
<path d="M15.0,676.0 L27.0,674.5 L37.6,673.4 L51.7,669.9 L57.5,670.5 L49.3,676.9 L41.1,682.8 L29.4,687.4 L23.5,691.0 L27.0,695.6 L35.5,700.2 L41.4,706.2 L42.6,713.3 L41.4,727.6 L15.0,728.5 Z" fill="#fff" stroke="#fff" stroke-width="7.5" stroke-linejoin="round" filter="url(#soft)"/>
<path d="M104.4,628.0 C113.4,626.5 152.6,626.5 161.0,628.0 C169.4,629.5 156.8,635.1 154.8,637.0 C152.8,638.9 150.9,639.4 149.0,639.4 C147.1,639.4 145.4,636.8 143.1,637.0 C140.8,637.2 137.8,639.1 134.9,640.5 C132.0,641.9 128.1,645.2 125.5,645.2 C123.0,645.2 121.8,641.3 119.6,640.5 C117.4,639.7 114.7,641.1 112.6,640.5 C110.5,639.9 108.2,639.1 106.8,637.0 C105.4,634.9 95.4,629.5 104.4,628.0 Z" fill="#fff" stroke="#fff" stroke-width="7.5" stroke-linejoin="round" filter="url(#soft)"/>
<path d="M16.0,781.4 C17.9,780.4 23.7,779.3 27.1,778.5 C30.6,777.7 33.7,777.8 36.7,776.7 C39.7,775.6 43.0,773.9 45.0,771.9 C47.0,769.9 47.8,767.4 48.6,764.8 C49.4,762.2 48.6,759.0 49.8,756.4 C51.0,753.8 53.5,751.5 55.7,749.3 C57.9,747.1 60.9,745.3 62.9,743.3 C64.9,741.3 66.0,739.3 67.6,737.4 C69.2,735.5 70.0,732.9 72.4,732.0 C74.8,731.1 78.9,732.9 81.9,732.0 C84.9,731.1 87.8,727.9 90.2,726.7 C92.6,725.5 94.1,724.4 96.2,724.9 C98.3,725.4 101.2,727.8 103.0,729.5 C104.8,731.2 105.2,733.2 107.1,735.2 C109.0,737.2 111.8,739.8 114.5,741.8 C117.2,743.8 120.5,744.9 123.3,747.2 C126.0,749.5 129.1,753.1 131.0,755.5 C132.9,757.9 134.4,759.7 134.8,761.5 C135.2,763.3 133.2,766.8 133.5,766.5 C133.8,766.2 135.3,761.4 136.5,759.5 C137.7,757.6 138.7,756.2 140.5,755.2 C142.3,754.2 146.8,754.7 147.3,753.8 C147.8,752.9 145.2,751.3 143.3,749.8 C141.4,748.3 138.2,747.2 135.7,745.0 C133.2,742.8 130.5,739.1 128.1,736.4 C125.7,733.7 123.4,732.0 121.4,728.8 C119.4,725.6 116.7,719.9 116.2,717.4 C115.7,714.9 117.8,714.1 118.5,713.5 C119.2,712.9 118.7,712.8 120.2,713.8 C121.7,714.8 125.4,717.8 127.4,719.8 C129.4,721.8 130.1,723.7 132.1,725.7 C134.1,727.7 136.9,729.7 139.3,731.7 C141.7,733.7 144.4,735.8 146.4,737.6 C148.4,739.4 150.2,740.0 151.2,742.4 C152.2,744.8 151.4,749.1 152.4,751.9 C153.4,754.7 155.5,756.6 157.1,759.0 C158.7,761.4 160.3,763.8 161.9,766.2 C163.5,768.6 165.1,771.7 166.7,773.3 C168.3,774.9 169.8,776.1 171.4,775.7 C173.0,775.3 175.8,773.3 176.2,771.0 C176.5,768.7 174.3,764.8 173.5,762.0 C172.7,759.2 171.0,756.4 171.4,754.3 C171.8,752.2 173.8,750.3 176.2,749.5 C178.6,748.7 183.6,748.5 185.7,749.5 C187.8,750.5 187.8,752.9 188.7,755.7 C189.5,758.5 189.8,763.4 190.8,766.2 C191.9,769.0 192.7,770.4 195.0,772.5 C197.3,774.6 201.5,777.8 204.5,778.7 C207.5,779.6 209.7,777.5 212.8,777.7 C215.9,777.9 219.8,779.6 223.3,779.8 C226.8,780.0 231.2,778.7 233.8,778.7 C236.4,778.7 237.9,777.9 239.0,779.8 C240.1,781.7 240.4,787.5 240.1,790.3 C239.8,793.1 238.1,793.9 236.9,796.5 C235.7,799.1 234.1,803.5 233.0,806.0 C231.9,808.5 232.2,810.2 230.6,811.2 C229.0,812.2 226.3,812.3 223.3,812.3 C220.3,812.3 216.6,811.2 212.8,811.2 C209.0,811.2 204.8,812.6 200.3,812.3 C195.8,811.9 190.2,810.7 185.6,809.1 C181.0,807.5 176.7,804.0 173.0,802.8 C169.3,801.6 166.1,801.6 163.6,801.8 C161.1,801.9 159.2,801.9 157.8,803.7 C156.4,805.5 156.3,810.2 155.2,812.4 C154.0,814.6 153.1,816.4 150.9,816.7 C148.7,817.0 144.8,815.0 142.2,814.1 C139.6,813.2 137.4,813.0 135.2,811.5 C133.0,810.0 131.1,807.0 129.1,805.4 C127.1,803.8 126.0,803.0 123.0,802.0 C120.0,801.0 113.9,800.8 110.9,799.3 C107.9,797.8 105.5,795.2 104.8,793.3 C104.1,791.4 106.2,790.6 106.5,788.0 C106.8,785.4 107.4,780.1 106.5,777.6 C105.6,775.1 104.6,773.8 101.3,773.3 C98.0,772.8 91.9,773.9 86.7,774.3 C81.5,774.7 75.2,774.9 70.0,775.5 C64.8,776.1 60.1,776.7 55.7,777.9 C51.3,779.1 48.2,781.2 43.8,782.6 C39.4,784.0 34.1,785.9 29.5,786.2 C24.9,786.5 18.2,785.3 16.0,784.5 C13.8,783.7 14.2,782.4 16.0,781.4 Z" fill="#fff" stroke="#fff" stroke-width="7.5" stroke-linejoin="round" filter="url(#soft)"/>
<path d="M199.3,735.2 C200.0,732.8 201.8,729.0 203.2,726.0 C204.6,723.0 206.1,720.2 207.8,717.4 C209.5,714.5 211.5,710.4 213.2,708.9 C214.9,707.4 216.3,707.7 217.9,708.2 C219.5,708.7 221.2,710.3 222.5,712.0 C223.8,713.7 224.4,716.5 225.6,718.2 C226.8,719.9 227.7,721.7 229.5,722.1 C231.3,722.5 234.0,720.9 236.4,720.5 C238.8,720.1 241.6,719.1 244.2,719.8 C246.8,720.4 249.3,722.7 251.9,724.4 C254.5,726.1 257.1,727.9 259.7,729.8 C262.3,731.7 265.9,734.2 267.4,736.0 C268.9,737.8 269.1,739.3 268.9,740.7 C268.6,742.1 268.1,743.9 265.9,744.5 C263.7,745.1 259.4,744.9 255.8,744.5 C252.2,744.1 247.7,743.1 244.2,742.2 C240.7,741.3 238.1,739.5 234.9,739.1 C231.7,738.7 227.9,739.1 224.8,739.9 C221.7,740.7 218.9,742.9 216.3,743.8 C213.7,744.7 211.8,745.2 209.3,745.3 C206.9,745.4 203.3,745.3 201.6,744.5 C199.9,743.7 199.7,742.2 199.3,740.7 C198.9,739.2 198.7,737.7 199.3,735.2 Z" fill="#fff" stroke="#fff" stroke-width="7.5" stroke-linejoin="round" filter="url(#soft)"/>
<path d="M236.4,710.5 C237.0,709.3 240.4,707.5 242.6,706.6 C244.8,705.7 248.6,704.5 249.6,705.1 C250.6,705.8 249.5,709.1 248.8,710.5 C248.2,711.9 247.4,713.1 245.7,713.6 C244.0,714.1 240.4,714.1 238.8,713.6 C237.2,713.1 235.8,711.7 236.4,710.5 Z" fill="#fff" stroke="#fff" stroke-width="7.5" stroke-linejoin="round" filter="url(#soft)"/>
<path d="M12.0,634.0 C13.5,628.2 18.5,636.3 21.0,637.0 C23.5,637.7 25.4,636.8 27.0,638.0 C28.6,639.2 30.5,641.8 30.5,644.0 C30.5,646.2 28.0,648.5 27.0,651.0 C26.0,653.5 25.3,656.7 24.7,659.0 C24.1,661.3 24.1,663.2 23.5,665.0 C22.9,666.8 22.9,668.8 21.0,670.0 C19.1,671.2 13.5,678.0 12.0,672.0 C10.5,666.0 10.5,639.8 12.0,634.0 Z" fill="#fff" stroke="#f6ffff" stroke-width="4.2" stroke-linejoin="round"/>
<path d="M41.5,626.0 C46.1,625.0 61.0,626.0 70.0,626.0 C79.0,626.0 91.2,624.7 95.5,626.0 C99.8,627.3 95.9,630.8 95.8,634.0 C95.7,637.2 97.1,642.4 95.0,645.2 C92.9,648.1 86.6,649.1 83.3,651.1 C80.0,653.1 77.2,655.0 75.1,657.0 C72.9,659.0 72.2,661.0 70.4,662.8 C68.6,664.5 66.7,666.3 64.5,667.5 C62.4,668.7 58.5,671.1 57.5,669.9 C56.5,668.7 59.1,663.4 58.7,660.5 C58.3,657.6 56.8,654.8 55.2,652.3 C53.6,649.8 51.1,647.6 49.3,645.2 C47.5,642.9 45.7,640.4 44.6,638.2 C43.5,636.0 43.0,634.0 42.5,632.0 C42.0,630.0 36.9,627.0 41.5,626.0 Z" fill="#fff" stroke="#f6ffff" stroke-width="4.2" stroke-linejoin="round"/>
<path d="M15.0,676.0 L27.0,674.5 L37.6,673.4 L51.7,669.9 L57.5,670.5 L49.3,676.9 L41.1,682.8 L29.4,687.4 L23.5,691.0 L27.0,695.6 L35.5,700.2 L41.4,706.2 L42.6,713.3 L41.4,727.6 L15.0,728.5 Z" fill="#fff" stroke="#f6ffff" stroke-width="4.2" stroke-linejoin="round"/>
<path d="M104.4,628.0 C113.4,626.5 152.6,626.5 161.0,628.0 C169.4,629.5 156.8,635.1 154.8,637.0 C152.8,638.9 150.9,639.4 149.0,639.4 C147.1,639.4 145.4,636.8 143.1,637.0 C140.8,637.2 137.8,639.1 134.9,640.5 C132.0,641.9 128.1,645.2 125.5,645.2 C123.0,645.2 121.8,641.3 119.6,640.5 C117.4,639.7 114.7,641.1 112.6,640.5 C110.5,639.9 108.2,639.1 106.8,637.0 C105.4,634.9 95.4,629.5 104.4,628.0 Z" fill="#fff" stroke="#f6ffff" stroke-width="4.2" stroke-linejoin="round"/>
<path d="M16.0,781.4 C17.9,780.4 23.7,779.3 27.1,778.5 C30.6,777.7 33.7,777.8 36.7,776.7 C39.7,775.6 43.0,773.9 45.0,771.9 C47.0,769.9 47.8,767.4 48.6,764.8 C49.4,762.2 48.6,759.0 49.8,756.4 C51.0,753.8 53.5,751.5 55.7,749.3 C57.9,747.1 60.9,745.3 62.9,743.3 C64.9,741.3 66.0,739.3 67.6,737.4 C69.2,735.5 70.0,732.9 72.4,732.0 C74.8,731.1 78.9,732.9 81.9,732.0 C84.9,731.1 87.8,727.9 90.2,726.7 C92.6,725.5 94.1,724.4 96.2,724.9 C98.3,725.4 101.2,727.8 103.0,729.5 C104.8,731.2 105.2,733.2 107.1,735.2 C109.0,737.2 111.8,739.8 114.5,741.8 C117.2,743.8 120.5,744.9 123.3,747.2 C126.0,749.5 129.1,753.1 131.0,755.5 C132.9,757.9 134.4,759.7 134.8,761.5 C135.2,763.3 133.2,766.8 133.5,766.5 C133.8,766.2 135.3,761.4 136.5,759.5 C137.7,757.6 138.7,756.2 140.5,755.2 C142.3,754.2 146.8,754.7 147.3,753.8 C147.8,752.9 145.2,751.3 143.3,749.8 C141.4,748.3 138.2,747.2 135.7,745.0 C133.2,742.8 130.5,739.1 128.1,736.4 C125.7,733.7 123.4,732.0 121.4,728.8 C119.4,725.6 116.7,719.9 116.2,717.4 C115.7,714.9 117.8,714.1 118.5,713.5 C119.2,712.9 118.7,712.8 120.2,713.8 C121.7,714.8 125.4,717.8 127.4,719.8 C129.4,721.8 130.1,723.7 132.1,725.7 C134.1,727.7 136.9,729.7 139.3,731.7 C141.7,733.7 144.4,735.8 146.4,737.6 C148.4,739.4 150.2,740.0 151.2,742.4 C152.2,744.8 151.4,749.1 152.4,751.9 C153.4,754.7 155.5,756.6 157.1,759.0 C158.7,761.4 160.3,763.8 161.9,766.2 C163.5,768.6 165.1,771.7 166.7,773.3 C168.3,774.9 169.8,776.1 171.4,775.7 C173.0,775.3 175.8,773.3 176.2,771.0 C176.5,768.7 174.3,764.8 173.5,762.0 C172.7,759.2 171.0,756.4 171.4,754.3 C171.8,752.2 173.8,750.3 176.2,749.5 C178.6,748.7 183.6,748.5 185.7,749.5 C187.8,750.5 187.8,752.9 188.7,755.7 C189.5,758.5 189.8,763.4 190.8,766.2 C191.9,769.0 192.7,770.4 195.0,772.5 C197.3,774.6 201.5,777.8 204.5,778.7 C207.5,779.6 209.7,777.5 212.8,777.7 C215.9,777.9 219.8,779.6 223.3,779.8 C226.8,780.0 231.2,778.7 233.8,778.7 C236.4,778.7 237.9,777.9 239.0,779.8 C240.1,781.7 240.4,787.5 240.1,790.3 C239.8,793.1 238.1,793.9 236.9,796.5 C235.7,799.1 234.1,803.5 233.0,806.0 C231.9,808.5 232.2,810.2 230.6,811.2 C229.0,812.2 226.3,812.3 223.3,812.3 C220.3,812.3 216.6,811.2 212.8,811.2 C209.0,811.2 204.8,812.6 200.3,812.3 C195.8,811.9 190.2,810.7 185.6,809.1 C181.0,807.5 176.7,804.0 173.0,802.8 C169.3,801.6 166.1,801.6 163.6,801.8 C161.1,801.9 159.2,801.9 157.8,803.7 C156.4,805.5 156.3,810.2 155.2,812.4 C154.0,814.6 153.1,816.4 150.9,816.7 C148.7,817.0 144.8,815.0 142.2,814.1 C139.6,813.2 137.4,813.0 135.2,811.5 C133.0,810.0 131.1,807.0 129.1,805.4 C127.1,803.8 126.0,803.0 123.0,802.0 C120.0,801.0 113.9,800.8 110.9,799.3 C107.9,797.8 105.5,795.2 104.8,793.3 C104.1,791.4 106.2,790.6 106.5,788.0 C106.8,785.4 107.4,780.1 106.5,777.6 C105.6,775.1 104.6,773.8 101.3,773.3 C98.0,772.8 91.9,773.9 86.7,774.3 C81.5,774.7 75.2,774.9 70.0,775.5 C64.8,776.1 60.1,776.7 55.7,777.9 C51.3,779.1 48.2,781.2 43.8,782.6 C39.4,784.0 34.1,785.9 29.5,786.2 C24.9,786.5 18.2,785.3 16.0,784.5 C13.8,783.7 14.2,782.4 16.0,781.4 Z" fill="#fff" stroke="#f6ffff" stroke-width="4.2" stroke-linejoin="round"/>
<path d="M199.3,735.2 C200.0,732.8 201.8,729.0 203.2,726.0 C204.6,723.0 206.1,720.2 207.8,717.4 C209.5,714.5 211.5,710.4 213.2,708.9 C214.9,707.4 216.3,707.7 217.9,708.2 C219.5,708.7 221.2,710.3 222.5,712.0 C223.8,713.7 224.4,716.5 225.6,718.2 C226.8,719.9 227.7,721.7 229.5,722.1 C231.3,722.5 234.0,720.9 236.4,720.5 C238.8,720.1 241.6,719.1 244.2,719.8 C246.8,720.4 249.3,722.7 251.9,724.4 C254.5,726.1 257.1,727.9 259.7,729.8 C262.3,731.7 265.9,734.2 267.4,736.0 C268.9,737.8 269.1,739.3 268.9,740.7 C268.6,742.1 268.1,743.9 265.9,744.5 C263.7,745.1 259.4,744.9 255.8,744.5 C252.2,744.1 247.7,743.1 244.2,742.2 C240.7,741.3 238.1,739.5 234.9,739.1 C231.7,738.7 227.9,739.1 224.8,739.9 C221.7,740.7 218.9,742.9 216.3,743.8 C213.7,744.7 211.8,745.2 209.3,745.3 C206.9,745.4 203.3,745.3 201.6,744.5 C199.9,743.7 199.7,742.2 199.3,740.7 C198.9,739.2 198.7,737.7 199.3,735.2 Z" fill="#fff" stroke="#f6ffff" stroke-width="4.2" stroke-linejoin="round"/>
<path d="M236.4,710.5 C237.0,709.3 240.4,707.5 242.6,706.6 C244.8,705.7 248.6,704.5 249.6,705.1 C250.6,705.8 249.5,709.1 248.8,710.5 C248.2,711.9 247.4,713.1 245.7,713.6 C244.0,714.1 240.4,714.1 238.8,713.6 C237.2,713.1 235.8,711.7 236.4,710.5 Z" fill="#fff" stroke="#f6ffff" stroke-width="4.2" stroke-linejoin="round"/>
<path d="M12.0,634.0 C13.5,628.2 18.5,636.3 21.0,637.0 C23.5,637.7 25.4,636.8 27.0,638.0 C28.6,639.2 30.5,641.8 30.5,644.0 C30.5,646.2 28.0,648.5 27.0,651.0 C26.0,653.5 25.3,656.7 24.7,659.0 C24.1,661.3 24.1,663.2 23.5,665.0 C22.9,666.8 22.9,668.8 21.0,670.0 C19.1,671.2 13.5,678.0 12.0,672.0 C10.5,666.0 10.5,639.8 12.0,634.0 Z" fill="#2bc5d7"/>
<path d="M41.5,626.0 C46.1,625.0 61.0,626.0 70.0,626.0 C79.0,626.0 91.2,624.7 95.5,626.0 C99.8,627.3 95.9,630.8 95.8,634.0 C95.7,637.2 97.1,642.4 95.0,645.2 C92.9,648.1 86.6,649.1 83.3,651.1 C80.0,653.1 77.2,655.0 75.1,657.0 C72.9,659.0 72.2,661.0 70.4,662.8 C68.6,664.5 66.7,666.3 64.5,667.5 C62.4,668.7 58.5,671.1 57.5,669.9 C56.5,668.7 59.1,663.4 58.7,660.5 C58.3,657.6 56.8,654.8 55.2,652.3 C53.6,649.8 51.1,647.6 49.3,645.2 C47.5,642.9 45.7,640.4 44.6,638.2 C43.5,636.0 43.0,634.0 42.5,632.0 C42.0,630.0 36.9,627.0 41.5,626.0 Z" fill="#2bc5d7"/>
<path d="M15.0,676.0 L27.0,674.5 L37.6,673.4 L51.7,669.9 L57.5,670.5 L49.3,676.9 L41.1,682.8 L29.4,687.4 L23.5,691.0 L27.0,695.6 L35.5,700.2 L41.4,706.2 L42.6,713.3 L41.4,727.6 L15.0,728.5 Z" fill="#2bc5d7"/>
<path d="M104.4,628.0 C113.4,626.5 152.6,626.5 161.0,628.0 C169.4,629.5 156.8,635.1 154.8,637.0 C152.8,638.9 150.9,639.4 149.0,639.4 C147.1,639.4 145.4,636.8 143.1,637.0 C140.8,637.2 137.8,639.1 134.9,640.5 C132.0,641.9 128.1,645.2 125.5,645.2 C123.0,645.2 121.8,641.3 119.6,640.5 C117.4,639.7 114.7,641.1 112.6,640.5 C110.5,639.9 108.2,639.1 106.8,637.0 C105.4,634.9 95.4,629.5 104.4,628.0 Z" fill="#2bc5d7"/>
<path d="M16.0,781.4 C17.9,780.4 23.7,779.3 27.1,778.5 C30.6,777.7 33.7,777.8 36.7,776.7 C39.7,775.6 43.0,773.9 45.0,771.9 C47.0,769.9 47.8,767.4 48.6,764.8 C49.4,762.2 48.6,759.0 49.8,756.4 C51.0,753.8 53.5,751.5 55.7,749.3 C57.9,747.1 60.9,745.3 62.9,743.3 C64.9,741.3 66.0,739.3 67.6,737.4 C69.2,735.5 70.0,732.9 72.4,732.0 C74.8,731.1 78.9,732.9 81.9,732.0 C84.9,731.1 87.8,727.9 90.2,726.7 C92.6,725.5 94.1,724.4 96.2,724.9 C98.3,725.4 101.2,727.8 103.0,729.5 C104.8,731.2 105.2,733.2 107.1,735.2 C109.0,737.2 111.8,739.8 114.5,741.8 C117.2,743.8 120.5,744.9 123.3,747.2 C126.0,749.5 129.1,753.1 131.0,755.5 C132.9,757.9 134.4,759.7 134.8,761.5 C135.2,763.3 133.2,766.8 133.5,766.5 C133.8,766.2 135.3,761.4 136.5,759.5 C137.7,757.6 138.7,756.2 140.5,755.2 C142.3,754.2 146.8,754.7 147.3,753.8 C147.8,752.9 145.2,751.3 143.3,749.8 C141.4,748.3 138.2,747.2 135.7,745.0 C133.2,742.8 130.5,739.1 128.1,736.4 C125.7,733.7 123.4,732.0 121.4,728.8 C119.4,725.6 116.7,719.9 116.2,717.4 C115.7,714.9 117.8,714.1 118.5,713.5 C119.2,712.9 118.7,712.8 120.2,713.8 C121.7,714.8 125.4,717.8 127.4,719.8 C129.4,721.8 130.1,723.7 132.1,725.7 C134.1,727.7 136.9,729.7 139.3,731.7 C141.7,733.7 144.4,735.8 146.4,737.6 C148.4,739.4 150.2,740.0 151.2,742.4 C152.2,744.8 151.4,749.1 152.4,751.9 C153.4,754.7 155.5,756.6 157.1,759.0 C158.7,761.4 160.3,763.8 161.9,766.2 C163.5,768.6 165.1,771.7 166.7,773.3 C168.3,774.9 169.8,776.1 171.4,775.7 C173.0,775.3 175.8,773.3 176.2,771.0 C176.5,768.7 174.3,764.8 173.5,762.0 C172.7,759.2 171.0,756.4 171.4,754.3 C171.8,752.2 173.8,750.3 176.2,749.5 C178.6,748.7 183.6,748.5 185.7,749.5 C187.8,750.5 187.8,752.9 188.7,755.7 C189.5,758.5 189.8,763.4 190.8,766.2 C191.9,769.0 192.7,770.4 195.0,772.5 C197.3,774.6 201.5,777.8 204.5,778.7 C207.5,779.6 209.7,777.5 212.8,777.7 C215.9,777.9 219.8,779.6 223.3,779.8 C226.8,780.0 231.2,778.7 233.8,778.7 C236.4,778.7 237.9,777.9 239.0,779.8 C240.1,781.7 240.4,787.5 240.1,790.3 C239.8,793.1 238.1,793.9 236.9,796.5 C235.7,799.1 234.1,803.5 233.0,806.0 C231.9,808.5 232.2,810.2 230.6,811.2 C229.0,812.2 226.3,812.3 223.3,812.3 C220.3,812.3 216.6,811.2 212.8,811.2 C209.0,811.2 204.8,812.6 200.3,812.3 C195.8,811.9 190.2,810.7 185.6,809.1 C181.0,807.5 176.7,804.0 173.0,802.8 C169.3,801.6 166.1,801.6 163.6,801.8 C161.1,801.9 159.2,801.9 157.8,803.7 C156.4,805.5 156.3,810.2 155.2,812.4 C154.0,814.6 153.1,816.4 150.9,816.7 C148.7,817.0 144.8,815.0 142.2,814.1 C139.6,813.2 137.4,813.0 135.2,811.5 C133.0,810.0 131.1,807.0 129.1,805.4 C127.1,803.8 126.0,803.0 123.0,802.0 C120.0,801.0 113.9,800.8 110.9,799.3 C107.9,797.8 105.5,795.2 104.8,793.3 C104.1,791.4 106.2,790.6 106.5,788.0 C106.8,785.4 107.4,780.1 106.5,777.6 C105.6,775.1 104.6,773.8 101.3,773.3 C98.0,772.8 91.9,773.9 86.7,774.3 C81.5,774.7 75.2,774.9 70.0,775.5 C64.8,776.1 60.1,776.7 55.7,777.9 C51.3,779.1 48.2,781.2 43.8,782.6 C39.4,784.0 34.1,785.9 29.5,786.2 C24.9,786.5 18.2,785.3 16.0,784.5 C13.8,783.7 14.2,782.4 16.0,781.4 Z" fill="#2bc5d7"/>
<path d="M199.3,735.2 C200.0,732.8 201.8,729.0 203.2,726.0 C204.6,723.0 206.1,720.2 207.8,717.4 C209.5,714.5 211.5,710.4 213.2,708.9 C214.9,707.4 216.3,707.7 217.9,708.2 C219.5,708.7 221.2,710.3 222.5,712.0 C223.8,713.7 224.4,716.5 225.6,718.2 C226.8,719.9 227.7,721.7 229.5,722.1 C231.3,722.5 234.0,720.9 236.4,720.5 C238.8,720.1 241.6,719.1 244.2,719.8 C246.8,720.4 249.3,722.7 251.9,724.4 C254.5,726.1 257.1,727.9 259.7,729.8 C262.3,731.7 265.9,734.2 267.4,736.0 C268.9,737.8 269.1,739.3 268.9,740.7 C268.6,742.1 268.1,743.9 265.9,744.5 C263.7,745.1 259.4,744.9 255.8,744.5 C252.2,744.1 247.7,743.1 244.2,742.2 C240.7,741.3 238.1,739.5 234.9,739.1 C231.7,738.7 227.9,739.1 224.8,739.9 C221.7,740.7 218.9,742.9 216.3,743.8 C213.7,744.7 211.8,745.2 209.3,745.3 C206.9,745.4 203.3,745.3 201.6,744.5 C199.9,743.7 199.7,742.2 199.3,740.7 C198.9,739.2 198.7,737.7 199.3,735.2 Z" fill="#2bc5d7"/>
<path d="M236.4,710.5 C237.0,709.3 240.4,707.5 242.6,706.6 C244.8,705.7 248.6,704.5 249.6,705.1 C250.6,705.8 249.5,709.1 248.8,710.5 C248.2,711.9 247.4,713.1 245.7,713.6 C244.0,714.1 240.4,714.1 238.8,713.6 C237.2,713.1 235.8,711.7 236.4,710.5 Z" fill="#2bc5d7"/>
<rect x="21" y="632" width="273" height="196" filter="url(#tex2)" opacity="0.25" mask="url(#seamask)"/>
<path d="M96.5,735.0 C97.3,734.5 98.9,734.8 99.5,736.0 C100.1,737.2 100.4,740.3 100.3,742.0 C100.2,743.7 98.8,744.7 99.0,746.0 C99.2,747.3 101.0,748.2 101.5,750.0 C102.0,751.8 102.5,755.0 102.3,757.0 C102.1,759.0 101.7,761.1 100.5,762.0 C99.3,762.9 96.3,763.1 95.0,762.3 C93.7,761.5 92.8,759.0 92.5,757.0 C92.2,755.0 92.6,752.0 93.0,750.0 C93.4,748.0 94.7,746.8 95.0,745.0 C95.3,743.2 94.5,740.7 94.8,739.0 C95.0,737.3 95.7,735.5 96.5,735.0 Z" fill="#fff" stroke="#fff" stroke-width="3.2" filter="url(#soft)"/>
<ellipse cx="65.2" cy="757" rx="2.2" ry="2.2" fill="#fff" stroke="#fff" stroke-width="3.2" filter="url(#soft)"/>
<ellipse cx="181.9" cy="787.2" rx="4.2" ry="2.4" fill="#fff" stroke="#fff" stroke-width="3.2" filter="url(#soft)"/>
<ellipse cx="226" cy="788.2" rx="3.4" ry="2.4" fill="#fff" stroke="#fff" stroke-width="3.2" filter="url(#soft)"/>
<path d="M115.5,767.4 C117.5,766.4 126.7,765.5 129.8,766.2 C132.9,766.9 134.2,770.0 134.0,771.5 C133.8,773.0 131.3,775.1 128.6,775.2 C125.9,775.3 120.1,773.4 117.9,772.1 C115.7,770.8 113.5,768.4 115.5,767.4 Z" fill="#fff" stroke="#fff" stroke-width="3.2" filter="url(#soft)"/>
<ellipse cx="199.6" cy="749" rx="4" ry="2.8" fill="#fff" stroke="#fff" stroke-width="3.2" filter="url(#soft)"/>
<path d="M96.5,735.0 C97.3,734.5 98.9,734.8 99.5,736.0 C100.1,737.2 100.4,740.3 100.3,742.0 C100.2,743.7 98.8,744.7 99.0,746.0 C99.2,747.3 101.0,748.2 101.5,750.0 C102.0,751.8 102.5,755.0 102.3,757.0 C102.1,759.0 101.7,761.1 100.5,762.0 C99.3,762.9 96.3,763.1 95.0,762.3 C93.7,761.5 92.8,759.0 92.5,757.0 C92.2,755.0 92.6,752.0 93.0,750.0 C93.4,748.0 94.7,746.8 95.0,745.0 C95.3,743.2 94.5,740.7 94.8,739.0 C95.0,737.3 95.7,735.5 96.5,735.0 Z" fill="#e6c6a8"/>
<ellipse cx="181.9" cy="787.2" rx="4.2" ry="2.4" fill="#e6c6a8"/>
<ellipse cx="226" cy="788.2" rx="3.4" ry="2.4" fill="#e6c6a8"/>
<path d="M115.5,767.4 C117.5,766.4 126.7,765.5 129.8,766.2 C132.9,766.9 134.2,770.0 134.0,771.5 C133.8,773.0 131.3,775.1 128.6,775.2 C125.9,775.3 120.1,773.4 117.9,772.1 C115.7,770.8 113.5,768.4 115.5,767.4 Z" fill="#e6c6a8"/>
</g>
<circle cx="34.1" cy="655.4" r="3.6" fill="#f34e27" stroke="#1a1a1a" stroke-width="1"/>
<circle cx="158.1" cy="637.4" r="3.3" fill="#f34e27" stroke="#1a1a1a" stroke-width="1"/>
<circle cx="151" cy="661.2" r="3.6" fill="#f34e27" stroke="#1a1a1a" stroke-width="1"/>
<circle cx="161" cy="659.5" r="4" fill="#f34e27" stroke="#1a1a1a" stroke-width="1"/>
<circle cx="95" cy="677.6" r="3.6" fill="#f34e27" stroke="#1a1a1a" stroke-width="1"/>
<circle cx="173.6" cy="679" r="4.1" fill="#f34e27" stroke="#1a1a1a" stroke-width="1"/>
<circle cx="201.2" cy="679.4" r="3.4" fill="#f34e27" stroke="#1a1a1a" stroke-width="1"/>
<circle cx="227.1" cy="686.2" r="4.8" fill="#f34e27" stroke="#1a1a1a" stroke-width="1"/>
<circle cx="70.6" cy="692.5" r="4.4" fill="#f34e27" stroke="#1a1a1a" stroke-width="1"/>
<circle cx="109.3" cy="721.8" r="3.5" fill="#f34e27" stroke="#1a1a1a" stroke-width="1"/>
<circle cx="103.9" cy="729" r="3.5" fill="#f34e27" stroke="#1a1a1a" stroke-width="1"/>
<circle cx="65" cy="731.2" r="5.7" fill="#f34e27" stroke="#1a1a1a" stroke-width="1"/>
<circle cx="64.3" cy="735.2" r="3.5" fill="#f34e27" stroke="#1a1a1a" stroke-width="1"/>
<circle cx="44" cy="742.7" r="3.6" fill="#f34e27" stroke="#1a1a1a" stroke-width="1"/>
<circle cx="28.9" cy="751.4" r="3.4" fill="#f34e27" stroke="#1a1a1a" stroke-width="1"/>
<circle cx="115.5" cy="741" r="3.6" fill="#f34e27" stroke="#1a1a1a" stroke-width="1"/>
<circle cx="162.4" cy="750.6" r="3.5" fill="#f34e27" stroke="#1a1a1a" stroke-width="1"/>
<circle cx="188.5" cy="765.5" r="3.4" fill="#f34e27" stroke="#1a1a1a" stroke-width="1"/>
<circle cx="238" cy="801.8" r="6.8" fill="#f34e27" stroke="#1a1a1a" stroke-width="1"/>
<circle cx="235.3" cy="802.8" r="4.6" fill="#f34e27" stroke="#1a1a1a" stroke-width="1"/>
<circle cx="237.4" cy="809.1" r="6.4" fill="#f34e27" stroke="#1a1a1a" stroke-width="1"/>
<circle cx="236.4" cy="809.6" r="3.1" fill="#f34e27" stroke="#1a1a1a" stroke-width="1"/>
<circle cx="282.4" cy="798.4" r="4.4" fill="#f34e27" stroke="#1a1a1a" stroke-width="1"/>
<circle cx="285.2" cy="804.6" r="3.9" fill="#f34e27" stroke="#1a1a1a" stroke-width="1"/>
<circle cx="217.5" cy="816.3" r="3.4" fill="#f34e27" stroke="#1a1a1a" stroke-width="1"/>
<circle cx="215.4" cy="820.1" r="3.3" fill="#f34e27" stroke="#1a1a1a" stroke-width="1"/>
<circle cx="229.4" cy="822.7" r="3.6" fill="#f34e27" stroke="#1a1a1a" stroke-width="1"/>
</svg>
<div class="t ns" style="left:323.50px;top:475.67px;font-size:15.5px;line-height:18.6px;font-family:'Liberation Serif', serif;color:#9a9a9a;font-weight:normal;letter-spacing:0.5px;">Sort By:</div>
<div style="position:absolute;left:384px;top:476.4px;width:91.2px;height:16.4px;border:1px solid #b8b8b8;border-radius:2px;background:#fff"></div>
<div class="t ns" style="left:389.20px;top:477.58px;font-size:13.333px;line-height:16.0px;font-family:'Liberation Sans', sans-serif;color:#111;font-weight:normal;">Date (Asc)</div>
<svg style="position:absolute;left:463px;top:482px" width="11" height="9" viewBox="0 0 11 9"><path d="M1 1.8 L5 6 L9 1.8" fill="none" stroke="#222" stroke-width="1.3"/></svg>
<div class="t" style="left:510.80px;top:475.84px;font-size:15px;line-height:18.0px;font-family:'Liberation Serif', serif;color:#1c1c1c;font-weight:normal;">Showing 0-99 of 709.</div>
<div style="position:absolute;left:647px;top:475.2px;width:32.7px;height:22.4px;border-radius:4px;background:#eaeaee"></div>
<div class="t ns" style="left:649.60px;top:478.88px;font-size:13.333px;line-height:16.0px;font-family:'Liberation Sans', sans-serif;color:#9c9c9c;font-weight:normal;">Prev</div>
<div style="position:absolute;left:683.6px;top:475.2px;width:34.4px;height:22.4px;border-radius:4px;background:#f3f3f3;box-shadow:0 1px 2px rgba(0,0,0,0.15)"></div>
<div class="t ns" style="left:687.20px;top:478.88px;font-size:13.333px;line-height:16.0px;font-family:'Liberation Sans', sans-serif;color:#555;font-weight:normal;">Next</div>
<div class="t ns" style="left:325.90px;top:519.66px;font-size:15.3px;line-height:18.36px;font-family:'Liberation Serif', serif;color:#1c1c1c;font-weight:bold;">Deuteronomy 33:12</div>
<svg style="position:absolute;left:462px;top:520.8px" width="16" height="14" viewBox="0 0 16 14"><path d="M7.3 2.0 H2.2 Q0.5 2.0 0.5 3.7 V11.0 Q0.5 12.7 2.2 12.7 H9.7 Q11.4 12.7 11.4 11.0 V7.4" fill="none" stroke="#111" stroke-width="1.45"/><path d="M6.2 8.4 L12.8 1.9" stroke="#111" stroke-width="1.75" stroke-linecap="round"/><path d="M9.8 0.2 H15.3 V5.7 Z" fill="#111"/></svg>
<div class="t" style="left:325.90px;top:538.86px;font-size:12.1px;line-height:14.52px;font-family:'Liberation Serif', serif;color:#1c1c1c;font-weight:normal;">Sinai/Canaan (c.1400 - c.400 BCE)</div>
<div class="t ns" style="left:170.50px;width:1000px;text-align:right;top:559.52px;font-size:18px;line-height:21.6px;font-family:'Liberation Serif', serif;color:#111;font-weight:normal;direction:rtl;transform:scaleX(0.992);transform-origin:right center;-webkit-text-stroke:0.45px #111 !important;">לְבִנְיָמִ֣ן אָמַ֔ר יְדִ֣יד יְהֹוָ֔ה יִשְׁכֹּ֥ן לָבֶ֖טַח עָלָ֑יו חֹפֵ֤ף עָלָיו֙ כׇּל־הַיּ֔וֹם וּבֵ֥ין כְּתֵיפָ֖יו שָׁכֵֽן: (ס)</div>
<div class="t" style="left:335.60px;top:590.24px;font-size:15px;line-height:18.0px;font-family:'Liberation Serif', serif;color:#1a1a1a;font-weight:normal;">Of Benjamin he said: Beloved of the LORD, He rests securely beside Him; Ever does He protect him, As he rests between His shoulders.</div>
<div class="t ns" style="left:325.90px;top:619.06px;font-size:15.3px;line-height:18.36px;font-family:'Liberation Serif', serif;color:#1c1c1c;font-weight:bold;">Deuteronomy 12:9</div>
<svg style="position:absolute;left:453.5px;top:620.2px" width="16" height="14" viewBox="0 0 16 14"><path d="M7.3 2.0 H2.2 Q0.5 2.0 0.5 3.7 V11.0 Q0.5 12.7 2.2 12.7 H9.7 Q11.4 12.7 11.4 11.0 V7.4" fill="none" stroke="#111" stroke-width="1.45"/><path d="M6.2 8.4 L12.8 1.9" stroke="#111" stroke-width="1.75" stroke-linecap="round"/><path d="M9.8 0.2 H15.3 V5.7 Z" fill="#111"/></svg>
<div class="t" style="left:325.90px;top:638.26px;font-size:12.1px;line-height:14.52px;font-family:'Liberation Serif', serif;color:#1c1c1c;font-weight:normal;">Sinai/Canaan (c.1400 - c.400 BCE)</div>
<div class="t ns" style="left:170.50px;width:1000px;text-align:right;top:658.92px;font-size:18px;line-height:21.6px;font-family:'Liberation Serif', serif;color:#111;font-weight:normal;direction:rtl;transform:scaleX(0.966);transform-origin:right center;-webkit-text-stroke:0.45px #111 !important;">כִּ֥י לֹא־בָאתֶ֖ם עַד־עָ֑תָּה אֶל־הַמְּנוּחָה֙ וְאֶל־הַֽנַּחֲלָ֔ה אֲשֶׁר־יְהֹוָ֥ה אֱלֹהֶ֖יךָ נֹתֵ֥ן לָֽךְ:</div>
<div class="t" style="left:335.60px;top:689.64px;font-size:15px;line-height:18.0px;font-family:'Liberation Serif', serif;color:#1a1a1a;font-weight:normal;letter-spacing:0.05px;">because you have not yet come to the allotted haven that the LORD your God is giving you.</div>
<div class="t ns" style="left:325.90px;top:719.16px;font-size:15.3px;line-height:18.36px;font-family:'Liberation Serif', serif;color:#1c1c1c;font-weight:bold;">Exodus 15:17</div>
<svg style="position:absolute;left:419px;top:720.3px" width="16" height="14" viewBox="0 0 16 14"><path d="M7.3 2.0 H2.2 Q0.5 2.0 0.5 3.7 V11.0 Q0.5 12.7 2.2 12.7 H9.7 Q11.4 12.7 11.4 11.0 V7.4" fill="none" stroke="#111" stroke-width="1.45"/><path d="M6.2 8.4 L12.8 1.9" stroke="#111" stroke-width="1.75" stroke-linecap="round"/><path d="M9.8 0.2 H15.3 V5.7 Z" fill="#111"/></svg>
<div class="t" style="left:325.90px;top:738.36px;font-size:12.1px;line-height:14.52px;font-family:'Liberation Serif', serif;color:#1c1c1c;font-weight:normal;">Sinai/Canaan (c.1400 - c.400 BCE)</div>
<div class="t ns" style="left:170.50px;width:1000px;text-align:right;top:759.02px;font-size:18px;line-height:21.6px;font-family:'Liberation Serif', serif;color:#111;font-weight:normal;direction:rtl;transform:scaleX(0.985);transform-origin:right center;-webkit-text-stroke:0.45px #111 !important;">תְּבִאֵ֗מוֹ וְתִטָּעֵ֙מוֹ֙ בְּהַ֣ר נַחֲלָֽתְךָ֔ מָכ֥וֹן לְשִׁבְתְּךָ֛ פָּעַ֖לְתָּ יְהֹוָ֑ה מִקְּדָ֕שׁ אֲדֹנָ֖י כּוֹנְנ֥וּ יָדֶֽיךָ:</div>
<div class="t" style="left:335.60px;top:789.74px;font-size:15px;line-height:18.0px;font-family:'Liberation Serif', serif;color:#1a1a1a;font-weight:normal;letter-spacing:0.11px;">You will bring them and plant them in Your own mountain, The place You made to dwell in, O LORD, The sanctuary, O LORD, which</div>
<div class="t" style="left:335.60px;top:809.14px;font-size:15px;line-height:18.0px;font-family:'Liberation Serif', serif;color:#1a1a1a;font-weight:normal;">Your hands established.</div>
<svg style="position:absolute;left:454px;top:838.6px" width="16" height="14" viewBox="0 0 16 14"><path d="M7.3 2.0 H2.2 Q0.5 2.0 0.5 3.7 V11.0 Q0.5 12.7 2.2 12.7 H9.7 Q11.4 12.7 11.4 11.0 V7.4" fill="none" stroke="#111" stroke-width="1.45"/><path d="M6.2 8.4 L12.8 1.9" stroke="#111" stroke-width="1.75" stroke-linecap="round"/><path d="M9.8 0.2 H15.3 V5.7 Z" fill="#111"/></svg>
</body></html>
